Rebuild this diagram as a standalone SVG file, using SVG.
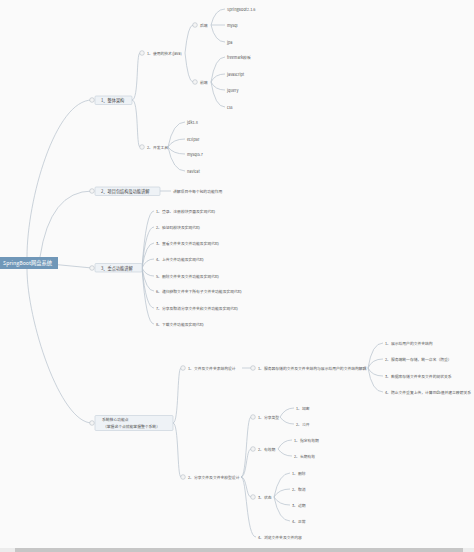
<svg xmlns="http://www.w3.org/2000/svg" width="474" height="552" viewBox="0 0 474 552">
<style>
.bg{fill:#fafafa}
.ln{fill:none;stroke:#b4c0cc;stroke-width:0.7}
.t{font-family:"Noto Sans CJK SC","Liberation Sans",sans-serif;font-size:3.8px;fill:#555;dominant-baseline:central}
.t1{font-family:"Noto Sans CJK SC","Liberation Sans",sans-serif;font-size:4.2px;fill:#444;dominant-baseline:central}
.tr{font-family:"Noto Sans CJK SC","Liberation Sans",sans-serif;font-size:5.3px;fill:#fff;dominant-baseline:central}
.box{fill:#eef2f6;stroke:#c3ced9;stroke-width:0.6}
.root{fill:#7097b8}
.c{fill:#f4f4f4;stroke:#a8b2bc;stroke-width:0.5}
</style>
<rect class="bg" x="0" y="0" width="474" height="552"/>
<g id="connectors">
<path class="ln" d="M27 257 C27 200 55 100 92 100"/>
<path class="ln" d="M40 257 Q50 191 92 191"/>
<path class="ln" d="M40 263 L92 268"/>
<path class="ln" d="M27 269 C27 320 60 423 92 423"/>
<path class="ln" d="M132 100 C139 100 136 53 140 53"/>
<path class="ln" d="M132 100 C139 100 136 147 140 147"/>
<path class="ln" d="M185 53 Q188 25 193 25"/>
<path class="ln" d="M185 53 Q188 82 193 82"/>
<path class="ln" d="M211 25 Q215 9 225 9"/>
<path class="ln" d="M211 25 L225 25"/>
<path class="ln" d="M211 25 Q215 42 225 42"/>
<path class="ln" d="M211 82 Q215 57 225 57"/>
<path class="ln" d="M211 82 Q215 74 225 74"/>
<path class="ln" d="M211 82 Q215 90 225 90"/>
<path class="ln" d="M211 82 Q215 107 225 107"/>
<path class="ln" d="M168 147 Q173 122 185 122"/>
<path class="ln" d="M168 147 Q173 139 185 139"/>
<path class="ln" d="M168 147 Q173 154 185 154"/>
<path class="ln" d="M168 147 Q173 171 185 171"/>
<path class="ln" d="M160 191 L171 191"/>
<path class="ln" d="M142 268 Q146 211 154 211"/>
<path class="ln" d="M142 268 Q146 227 154 227"/>
<path class="ln" d="M142 268 Q146 243 154 243"/>
<path class="ln" d="M142 268 Q146 259 154 259"/>
<path class="ln" d="M142 268 Q146 276 154 276"/>
<path class="ln" d="M142 268 Q146 291 154 291"/>
<path class="ln" d="M142 268 Q146 308 154 308"/>
<path class="ln" d="M142 268 Q146 324 154 324"/>
<path class="ln" d="M173 423 C179 423 177 368 181 368"/>
<path class="ln" d="M173 423 C179 423 177 477 181 477"/>
<path class="ln" d="M242 368 L251 368"/>
<path class="ln" d="M368 368 Q372 343 383 343"/>
<path class="ln" d="M368 368 Q372 359 383 359"/>
<path class="ln" d="M368 368 Q372 376 383 376"/>
<path class="ln" d="M368 368 Q372 392 383 392"/>
<path class="ln" d="M241 477 C247 477 246 417 251 417"/>
<path class="ln" d="M241 477 C247 477 246 449 251 449"/>
<path class="ln" d="M241 477 C247 477 246 497 251 497"/>
<path class="ln" d="M241 477 C247 477 246 537 256 537"/>
<path class="ln" d="M280 417 Q285 408 294 408"/>
<path class="ln" d="M280 417 Q285 424 294 424"/>
<path class="ln" d="M278 449 Q283 440 292 440"/>
<path class="ln" d="M278 449 Q283 456 292 456"/>
<path class="ln" d="M274 497 Q279 473 290 473"/>
<path class="ln" d="M274 497 Q279 489 290 489"/>
<path class="ln" d="M274 497 Q279 505 290 505"/>
<path class="ln" d="M274 497 Q279 521 290 521"/>
</g>
<g id="root"><rect class="root" x="0" y="257" width="58" height="12"/><text class="tr" x="3" y="263">SpringBoot网盘系统</text></g>
<g id="n1"><circle class="c" cx="92" cy="100" r="2.3"/><rect class="box" x="95" y="96" width="37" height="8.5" rx="1"/><text class="t1" x="101" y="100.3">1、整体架构</text></g>
<g id="n1-1"><circle class="c" cx="142" cy="53" r="2.3"/><text class="t" x="147" y="53">1、使用的技术(java)</text></g>
<g id="n1-1-1"><circle class="c" cx="195" cy="25" r="2.3"/><text class="t" x="200" y="25">后端</text></g>
<g id="n1-1-1-1"><text class="t" x="227" y="9">SpringBoot2.1.6</text></g>
<g id="n1-1-1-2"><text class="t" x="227" y="25">mysql</text></g>
<g id="n1-1-1-3"><text class="t" x="227" y="42">jpa</text></g>
<g id="n1-1-2"><circle class="c" cx="195" cy="82" r="2.3"/><text class="t" x="200" y="82">前端</text></g>
<g id="n1-1-2-1"><text class="t" x="227" y="57">freemark模板</text></g>
<g id="n1-1-2-2"><text class="t" x="227" y="74">javascript</text></g>
<g id="n1-1-2-3"><text class="t" x="227" y="90">jquery</text></g>
<g id="n1-1-2-4"><text class="t" x="227" y="107">css</text></g>
<g id="n1-2"><circle class="c" cx="142" cy="147" r="2.3"/><text class="t" x="147" y="147">2、开发工具</text></g>
<g id="n1-2-1"><text class="t" x="187" y="122">jdk1.8</text></g>
<g id="n1-2-2"><text class="t" x="187" y="139">eclipse</text></g>
<g id="n1-2-3"><text class="t" x="187" y="154">mysql5.7</text></g>
<g id="n1-2-4"><text class="t" x="187" y="171">navicat</text></g>
<g id="n2"><circle class="c" cx="92" cy="191" r="2.3"/><rect class="box" x="95" y="187" width="65" height="8.5" rx="1"/><text class="t1" x="101" y="191.3">2、项目包结构及功能讲解</text></g>
<g id="n2-1"><text class="t" x="173" y="191">讲解项目中每个包的功能作用</text></g>
<g id="n3"><circle class="c" cx="92" cy="268" r="2.3"/><rect class="box" x="95" y="263.5" width="47" height="8.5" rx="1"/><text class="t1" x="101" y="268">3、重点功能讲解</text></g>
<g id="n3-1"><text class="t" x="156" y="211">1、登录、注册模块页面及实现代码</text></g>
<g id="n3-2"><text class="t" x="156" y="227">2、验证码模块及实现代码</text></g>
<g id="n3-3"><text class="t" x="156" y="243">3、查看文件夹及文件功能及实现代码</text></g>
<g id="n3-4"><text class="t" x="156" y="259">4、上传文件功能及实现代码</text></g>
<g id="n3-5"><text class="t" x="156" y="276">5、删除文件夹及文件功能及实现代码</text></g>
<g id="n3-6"><text class="t" x="156" y="291">6、递归获取文件夹下所有子文件夹功能及实现代码</text></g>
<g id="n3-7"><text class="t" x="156" y="308">7、分享及取消分享文件夹和文件功能及实现代码</text></g>
<g id="n3-8"><text class="t" x="156" y="324">8、下载文件功能及实现代码</text></g>
<g id="n4"><circle class="c" cx="92" cy="423" r="2.3"/><rect class="box" x="95" y="415.5" width="78" height="15" rx="1"/><text class="t" x="102" y="419.5">系统核心功能点</text><text class="t" x="103" y="426.5">（掌握这个点就能掌握整个系统）</text></g>
<g id="n4-1"><circle class="c" cx="183" cy="368" r="2.3"/><text class="t" x="188" y="368">1、文件及文件夹表结构设计</text></g>
<g id="n4-1-1"><circle class="c" cx="253" cy="368" r="2.3"/><text class="t" x="258" y="368">1、服务器存储的文件及文件夹结构与展示给用户的文件结构解耦</text></g>
<g id="n4-1-1-1"><text class="t" x="385" y="343">1、展示给用户的文件夹结构</text></g>
<g id="n4-1-1-2"><text class="t" x="385" y="359">2、服务端统一存储，统一命名（防重）</text></g>
<g id="n4-1-1-3"><text class="t" x="385" y="376">3、数据库存储文件夹及文件的树状关系</text></g>
<g id="n4-1-1-4"><text class="t" x="385" y="392">4、防止文件重复上传，计算md5值并建立映射关系</text></g>
<g id="n4-2"><circle class="c" cx="183" cy="477" r="2.3"/><text class="t" x="188" y="477">2、分享文件及文件夹模型设计</text></g>
<g id="n4-2-1"><circle class="c" cx="253" cy="417" r="2.3"/><text class="t" x="258" y="417">1、分享类型</text></g>
<g id="n4-2-1-1"><text class="t" x="296" y="408">1、加密</text></g>
<g id="n4-2-1-2"><text class="t" x="296" y="424">2、公开</text></g>
<g id="n4-2-2"><circle class="c" cx="253" cy="449" r="2.3"/><text class="t" x="258" y="449">2、有效期</text></g>
<g id="n4-2-2-1"><text class="t" x="294" y="440">1、指定有效期</text></g>
<g id="n4-2-2-2"><text class="t" x="294" y="456">2、长期有效</text></g>
<g id="n4-2-3"><circle class="c" cx="253" cy="497" r="2.3"/><text class="t" x="258" y="497">3、状态</text></g>
<g id="n4-2-3-1"><text class="t" x="292" y="473">1、删除</text></g>
<g id="n4-2-3-2"><text class="t" x="292" y="489">2、取消</text></g>
<g id="n4-2-3-3"><text class="t" x="292" y="505">3、过期</text></g>
<g id="n4-2-3-4"><text class="t" x="292" y="521">4、正常</text></g>
<g id="n4-2-4"><text class="t" x="258" y="537">4、浏览文件夹及文件内容</text></g>
<rect x="0" y="548" width="474" height="4" fill="#ececec"/>
<rect x="15" y="548" width="448" height="4" fill="#c6c6c6"/>
</svg>
